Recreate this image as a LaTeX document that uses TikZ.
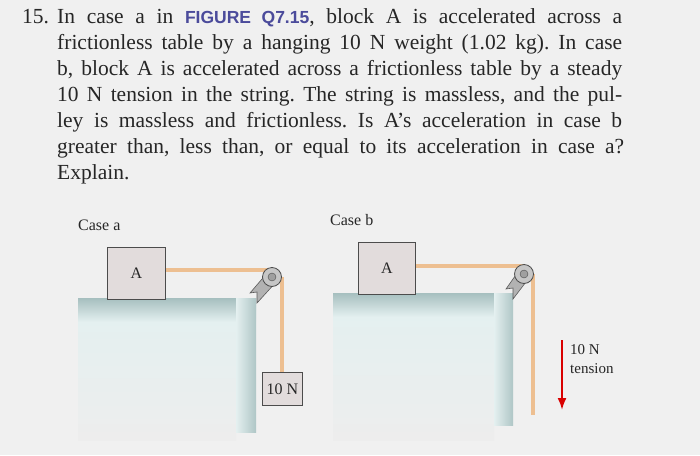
\documentclass[tikz,border=0pt]{standalone}
\usepackage{fontspec}
\usetikzlibrary{arrows.meta}
\setmainfont{Liberation Serif}
\newfontfamily\figsans{Liberation Sans}
\frenchspacing
\begin{document}
\begin{tikzpicture}[x=1pt,y=-1pt,
  txt/.style={anchor=base west,inner sep=0pt,text=black!85,font=\fontsize{21.5}{21.5}\selectfont},
  lbl/.style={inner sep=0pt,text=black!85,font=\fontsize{16}{18}\selectfont},
  blockbox/.style={draw=black!70,line width=0.8pt,fill=red!10!gray!25!white},
  rope/.style={line width=3.5pt,draw=brown!55!orange!50!white},
  pulleyc/.style={draw=black!70,fill=gray!45,line width=0.8pt},
  bracket/.style={draw=black!65,fill=gray!60,line width=0.6pt}]
\fill[gray!12] (0,0) rectangle (700,455);
\useasboundingbox (0,0) rectangle (700,455);
% text
\node[txt] (n15) at (22,23) {15.};
\node[txt] (l1) at (57,23) {\makebox[565pt][s]{In case a in {\figsans\bfseries\fontsize{17.5}{17.5}\selectfont\color{blue!35!gray!90!black}FIGURE Q7.15}, block A is accelerated across a}};
\node[txt] (l2) at (57,49) {\makebox[565pt][s]{frictionless table by a hanging 10 N weight (1.02 kg). In case}};
\node[txt] (l3) at (57,75) {\makebox[565pt][s]{b, block A is accelerated across a frictionless table by a steady}};
\node[txt] (l4) at (57,101) {\makebox[565pt][s]{10 N tension in the string. The string is massless, and the pul-}};
\node[txt] (l5) at (57,127) {\makebox[565pt][s]{ley is massless and frictionless. Is A’s acceleration in case b}};
\node[txt] (l6) at (57,153) {\makebox[567pt][s]{greater than, less than, or equal to its acceleration in case a?}};
\node[txt] (l7) at (57,179) {Explain.};
% ---- Case a
\node[lbl,anchor=west] (casea) at (78,225) {Case a};
\shade[top color=gray!60!teal!50, bottom color=gray!25!teal!12] (78,298) rectangle (256,322);
\shade[top color=gray!25!teal!12, bottom color=gray!14] (78,322) rectangle (236,440);
\shade[left color=gray!25!teal!12, right color=gray!60!teal!45] (236,298) rectangle (256,432);
\node[blockbox,minimum width=58pt,minimum height=52pt,anchor=south west,lbl] (Aa) at (107,300) {A};
\node[blockbox,minimum width=40pt,minimum height=33pt,anchor=north west,lbl] (wa) at (262,372) {10 N};
\coordinate (pa) at (272,277);
\draw[rope] (Aa.east |- 0,270) -- (272,270);
\draw[rope] (282,277) -- (wa.north -| 282,0);
\draw[bracket] (250,293) -- (268,272) -- (277,281) -- (257,303) -- (257,292) -- cycle;
\draw[pulleyc] (pa) circle (9.5pt);
\draw[black!70,fill=gray!75] (pa) circle (4pt);
% ---- Case b
\node[lbl,anchor=west] (caseb) at (330,220) {Case b};
\shade[top color=gray!60!teal!50, bottom color=gray!25!teal!12] (333,293) rectangle (512,317);
\shade[top color=gray!25!teal!12, bottom color=gray!14] (333,317) rectangle (494,440);
\shade[left color=gray!25!teal!12, right color=gray!60!teal!45] (494,293) rectangle (513,425);
\node[blockbox,minimum width=57pt,minimum height=52pt,anchor=south west,lbl] (Ab) at (358,295) {A};
\coordinate (pb) at (524,274);
\coordinate (endb) at (533,415);
\draw[rope] (Ab.east |- 0,266) -- (524,266);
\draw[rope] (533,274) -- (endb);
\draw[bracket] (506,289) -- (520,269) -- (529,278) -- (513,299) -- (513,288) -- cycle;
\draw[pulleyc] (pb) circle (9.5pt);
\draw[black!70,fill=gray!75] (pb) circle (4pt);
\coordinate (ar1) at (562,340);
\coordinate (ar2) at (562,410);
\draw[red!85!black,line width=2pt,-{Latex[length=12pt,width=9pt]}] (ar1) -- (ar2);
\node[lbl,anchor=north west,align=left,font=\fontsize{15}{19}\selectfont] (tens) at (570,344) {10 N\\tension};
\end{tikzpicture}
\end{document}
